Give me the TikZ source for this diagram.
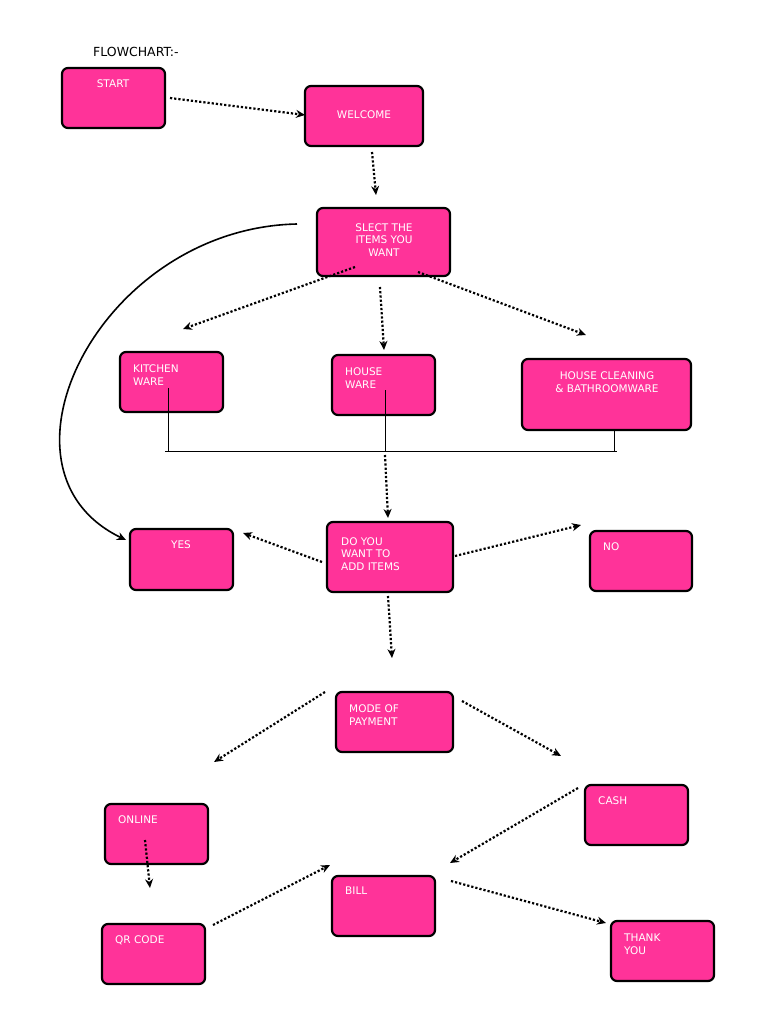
\documentclass[tikz,border=0pt]{standalone}
\usepackage{fontspec}
\setmainfont{DejaVu Sans}
\usetikzlibrary{arrows.meta}
\definecolor{boxpink}{HTML}{FF3399}
\tikzset{
  box/.style={draw=black, line width=2.2pt, fill=boxpink, rounded corners=6pt, inner sep=0pt},
  lbl/.style={text=white, font=\fontsize{10.5}{12.5}\selectfont, inner sep=0pt, align=left},
  dot/.style={dotted, line width=2.2pt, -{Stealth[length=9pt,width=8pt]}},
}
\newcommand{\pbox}[5]{\node[box, minimum width=#3pt-#1pt, minimum height=#4pt-#2pt] (#5) at ({(#1+#3)/2},{(#2+#4)/2}) {};}
\begin{document}
\begin{tikzpicture}[x=1pt,y=-1pt]
\useasboundingbox (0,0) rectangle (768,1024);
\node[anchor=west, font=\fontsize{12.5}{14}\selectfont, inner sep=0pt] (title) at (93,52) {FLOWCHART:-};

% boxes
\pbox{62}{68}{165}{128}{start}
\pbox{305}{86}{423}{146}{welcome}
\pbox{317}{208}{450}{276}{select}
\pbox{120}{352}{223}{412}{kitchen}
\pbox{332}{355}{435}{415}{house}
\pbox{522}{359}{691}{430}{clean}
\pbox{130}{529}{233}{590}{yes}
\pbox{327}{522}{453}{592}{add}
\pbox{590}{531}{692}{591}{no}
\pbox{336}{692}{453}{752}{mode}
\pbox{105}{804}{208}{864}{online}
\pbox{585}{785}{688}{845}{cash}
\pbox{332}{876}{435}{936}{bill}
\pbox{102}{924}{205}{984}{qr}
\pbox{611}{921}{714}{981}{thank}

% labels
\node[lbl] (tstart) at (113,84) {START};
\node[lbl] (twelcome) at (364,115) {WELCOME};
\node[lbl, align=center] (tselect) at (384,240) {SLECT THE\\ITEMS YOU\\WANT};
\node[lbl, anchor=west] (tkitchen) at (133,375) {KITCHEN\\WARE};
\node[lbl, anchor=west] (thouse) at (345,378) {HOUSE\\WARE};
\node[lbl, align=center] (tclean) at (607,382) {HOUSE CLEANING\\\& BATHROOMWARE};
\node[lbl] (tyes) at (181,545) {YES};
\node[lbl, anchor=west] (tadd) at (341,554) {DO YOU\\WANT TO\\ADD ITEMS};
\node[lbl, anchor=west] (tno) at (603,547) {NO};
\node[lbl, anchor=west] (tmode) at (349,715) {MODE OF\\PAYMENT};
\node[lbl, anchor=west] (tonline) at (118,820) {ONLINE};
\node[lbl, anchor=west] (tcash) at (598,801) {CASH};
\node[lbl, anchor=west] (tbill) at (345,891) {BILL};
\node[lbl, anchor=west] (tqr) at (115,940) {QR CODE};
\node[lbl, anchor=west] (tthank) at (624,944) {THANK\\YOU};

% collector lines
\coordinate (k1) at (168,388); \coordinate (k2) at (168,452);
\coordinate (h1) at (385,390); \coordinate (h2) at (385,451);
\coordinate (c1) at (614,430); \coordinate (c2) at (614,451);
\coordinate (bl) at (165,451); \coordinate (br) at (617,451);
\draw[line width=1pt] (k1) -- (k2) (h1) -- (h2) (c1) -- (c2) (bl) -- (br);

% arrow ends
\coordinate (a1s) at (170,98);  \coordinate (a1e) at (305,115);
\coordinate (a2s) at (372,152); \coordinate (a2e) at (376,195);
\coordinate (a3s) at (355,267); \coordinate (a3e) at (183,329);
\coordinate (a4s) at (380,287); \coordinate (a4e) at (384,350);
\coordinate (a5s) at (418,272); \coordinate (a5e) at (586,335);
\coordinate (a6s) at (385,455); \coordinate (a6e) at (388,518);
\coordinate (a7s) at (322,562); \coordinate (a7e) at (243,533);
\coordinate (a8s) at (455,556); \coordinate (a8e) at (581,525);
\coordinate (a9s) at (388,596); \coordinate (a9e) at (392,658);
\coordinate (b1s) at (325,692); \coordinate (b1e) at (214,762);
\coordinate (b2s) at (462,701); \coordinate (b2e) at (561,756);
\coordinate (b3s) at (145,840); \coordinate (b3e) at (150,888);
\coordinate (b4s) at (213,925); \coordinate (b4e) at (330,865);
\coordinate (b5s) at (578,788); \coordinate (b5e) at (450,863);
\coordinate (b6s) at (451,881); \coordinate (b6e) at (606,923);
\foreach \p in {a1,a2,a3,a4,a5,a6,a7,a8,a9,b1,b2,b3,b4,b5,b6}
  \draw[dot] (\p s) -- (\p e);

% loop back
\coordinate (ls) at (297,224); \coordinate (le) at (126,540);
\draw[line width=1.6pt, -{Stealth[length=9pt,width=8pt]}] (ls) .. controls (100,228) and (-20,470) .. (le);
\end{tikzpicture}
\end{document}
